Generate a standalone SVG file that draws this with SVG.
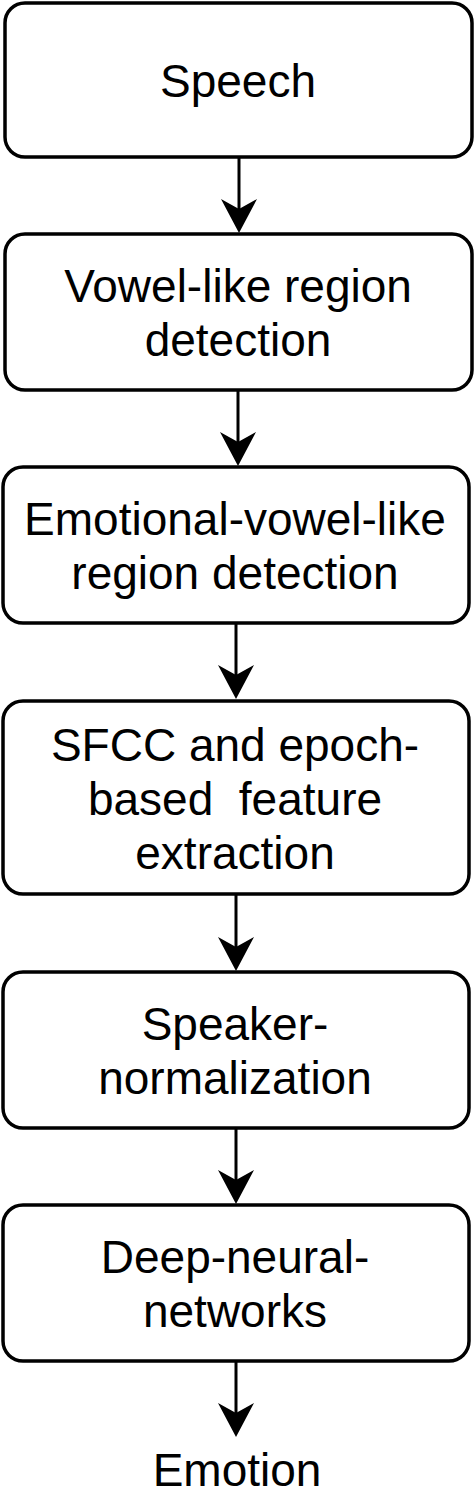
<svg xmlns="http://www.w3.org/2000/svg" width="474" height="1495" viewBox="0 0 474 1495">
<style>
.box{fill:#fff;stroke:#000;stroke-width:3.5}
.t{font-family:"Liberation Sans",Arial,sans-serif;font-size:46px;fill:#000;text-anchor:middle;white-space:pre}
.ln{stroke:#000;stroke-width:3;fill:none}
.hd{fill:#000;stroke:none}
</style>
<rect width="474" height="1495" fill="#fff"/>
<g id="connectors">
<line class="ln" x1="239" y1="157" x2="239" y2="215"/>
<path class="hd" d="M239 233 L221 199 L239 209 L257 199 Z"/>
<line class="ln" x1="238" y1="390" x2="238" y2="447"/>
<path class="hd" d="M238 466 L220 432 L238 442 L256 432 Z"/>
<line class="ln" x1="236" y1="623" x2="236" y2="680"/>
<path class="hd" d="M236 699 L218 665 L236 675 L254 665 Z"/>
<line class="ln" x1="236" y1="894" x2="236" y2="952"/>
<path class="hd" d="M236 971 L218 937 L236 947 L254 937 Z"/>
<line class="ln" x1="236" y1="1128" x2="236" y2="1185"/>
<path class="hd" d="M236 1204 L218 1170 L236 1180 L254 1170 Z"/>
<line class="ln" x1="236" y1="1361" x2="236" y2="1418"/>
<path class="hd" d="M236 1437 L218 1403 L236 1413 L254 1403 Z"/>
</g>
<g id="speech">
<rect class="box" x="5" y="3" width="467" height="154" rx="20"/>
<text class="t" x="238" y="97">Speech</text>
</g>
<g id="vlr">
<rect class="box" x="5" y="234" width="467" height="156" rx="20"/>
<text class="t" x="238" y="302">Vowel-like region</text>
<text class="t" x="238" y="356">detection</text>
</g>
<g id="evlr">
<rect class="box" x="3" y="467" width="466" height="156" rx="20"/>
<text class="t" x="235" y="535">Emotional-vowel-like</text>
<text class="t" x="235" y="589">region detection</text>
</g>
<g id="sfcc">
<rect class="box" x="3" y="701" width="466" height="193" rx="20"/>
<text class="t" x="235" y="761">SFCC and epoch-</text>
<text class="t" x="235" y="815">based  feature</text>
<text class="t" x="235" y="869">extraction</text>
</g>
<g id="spk">
<rect class="box" x="3" y="972" width="466" height="156" rx="20"/>
<text class="t" x="235" y="1040">Speaker-</text>
<text class="t" x="235" y="1094">normalization</text>
</g>
<g id="dnn">
<rect class="box" x="3" y="1205" width="466" height="156" rx="20"/>
<text class="t" x="235" y="1273">Deep-neural-</text>
<text class="t" x="235" y="1327">networks</text>
</g>
<g id="emotion">
<text class="t" x="237" y="1486">Emotion</text>
</g>
</svg>
